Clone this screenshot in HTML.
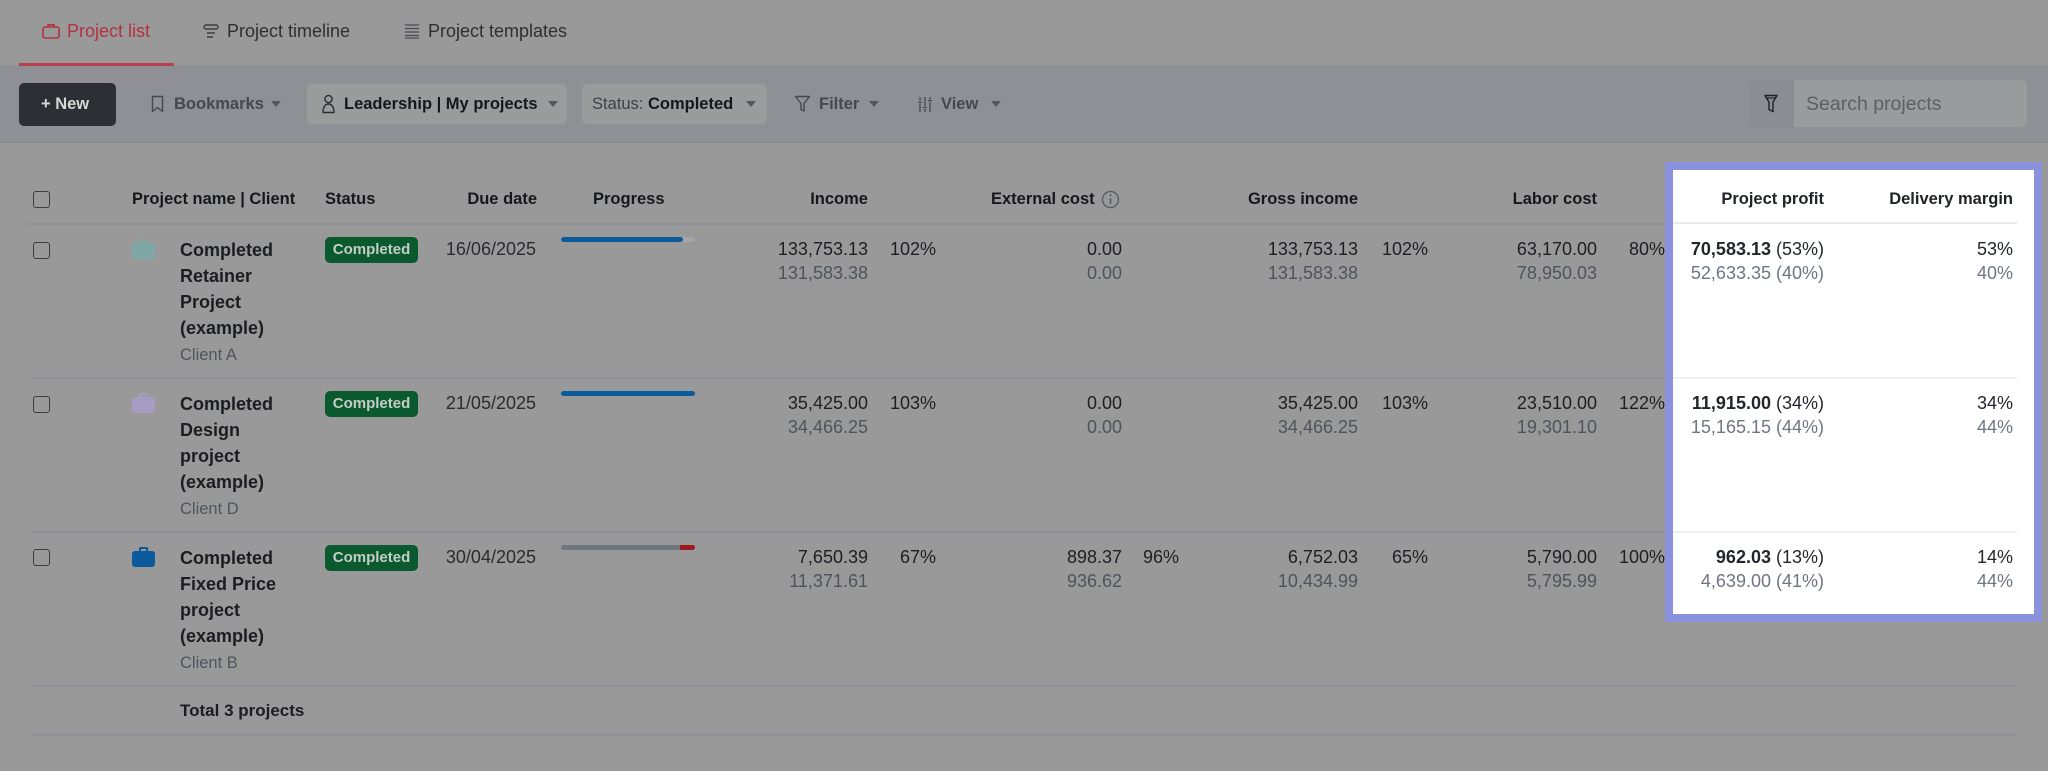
<!DOCTYPE html>
<html><head><meta charset="utf-8">
<style>
*{margin:0;padding:0;box-sizing:border-box}
html,body{width:2048px;height:771px;overflow:hidden}
body{position:relative;background:#999999;font-family:"Liberation Sans",Arial,sans-serif;color:#1c1d20}
.a{position:absolute}
.t{position:absolute;white-space:nowrap;line-height:24px;height:24px}
.n{font-size:18px;color:#1e1f22}
.g{color:#4f535b}
.h{font-size:16.5px;font-weight:bold;color:#17181b}
.line{position:absolute;height:2px;background:#8f9196}
.cb{position:absolute;width:17px;height:17px;border:1.6px solid #3c3d41;border-radius:3px}
.name{position:absolute;left:180px;font-size:18px;font-weight:bold;line-height:26px;color:#1c1d20;white-space:nowrap}
.name .c{font-weight:normal;font-size:16.5px;color:#50545c}
.badge{position:absolute;left:325px;width:93px;height:26px;border-radius:5px;background:#0b5a2f;color:#c3cdc6;font-size:15px;font-weight:bold;line-height:26px;text-align:center}
.bar{position:absolute;left:561px;width:134px;height:5px;border-radius:3px;background:#a2a5ab;overflow:hidden}
.caret{position:absolute;width:0;height:0;border-left:5px solid transparent;border-right:5px solid transparent;border-top:6px solid #55585f}
.ic{position:absolute;left:132px;width:23px;height:20px}
.ic .hd{position:absolute;left:7px;top:0;width:9px;height:6px;border:2px solid;border-bottom:none;border-radius:2px 2px 0 0}
.ic .bd{position:absolute;left:0;top:4px;width:23px;height:16px;border-radius:3px}
.p{z-index:3}
.pn{font-size:18px;color:#23262b}
.pg{color:#6e7584}
</style></head>
<body>

<!-- Tabs -->
<svg class="a" style="left:42px;top:23px" width="18" height="16" viewBox="0 0 18 16"><rect x="1" y="4" width="16" height="11" rx="2" fill="none" stroke="#b3323f" stroke-width="1.6"/><path d="M6 4V1.8h6V4" fill="none" stroke="#b3323f" stroke-width="1.6"/></svg>
<div class="t" style="left:67px;top:19px;font-size:18px;color:#b3323f">Project list</div>
<div class="a" style="left:0;top:65px;width:2048px;height:1px;background:#8d8f94"></div>
<div class="a" style="left:19px;top:63px;width:155px;height:3px;background:#b8404c"></div>

<svg class="a" style="left:203px;top:24px" width="17" height="15" viewBox="0 0 17 15"><rect x="1" y="1" width="14" height="4" rx="2" fill="none" stroke="#3c3d41" stroke-width="1.4"/><path d="M4 9h8M4 13h6" stroke="#3c3d41" stroke-width="1.4"/></svg>
<div class="t" style="left:227px;top:19px;font-size:18px;color:#2e2f33">Project timeline</div>

<svg class="a" style="left:404px;top:23px" width="16" height="16" viewBox="0 0 16 16"><path d="M1 2h14M1 5.5h14M1 9h14M1 12.5h14M1 15h14" stroke="#4a4b50" stroke-width="1.2"/></svg>
<div class="t" style="left:428px;top:19px;font-size:18px;color:#2e2f33">Project templates</div>

<!-- Toolbar -->
<div class="a" style="left:0;top:66px;width:2048px;height:76px;background:#8f9095"></div>
<div class="a" style="left:0;top:142px;width:2048px;height:1px;background:#878990"></div>

<div class="a" style="left:19px;top:83px;width:97px;height:43px;border-radius:5px;background:#2d2f35"></div>
<div class="t" style="left:41px;top:92px;font-size:16.5px;font-weight:bold;color:#d8d8d8">+ New</div>

<svg class="a" style="left:151px;top:95px" width="13" height="18" viewBox="0 0 13 18"><path d="M1.5 1.5h10v15l-5-4-5 4z" fill="none" stroke="#45484f" stroke-width="1.4" stroke-linejoin="round"/></svg>
<div class="t" style="left:174px;top:92px;font-size:16.5px;font-weight:bold;color:#45484f">Bookmarks</div>
<div class="caret" style="left:271px;top:101px"></div>

<div class="a" style="left:307px;top:84px;width:260px;height:40px;border-radius:5px;background:#9a9b9d"></div>
<svg class="a" style="left:321px;top:94px" width="15" height="20" viewBox="0 0 15 20"><circle cx="7.5" cy="5" r="3.6" fill="none" stroke="#2c2d31" stroke-width="1.4"/><path d="M2 18.5c0-5 2-8.5 5.5-8.5s5.5 3.5 5.5 8.5z" fill="none" stroke="#2c2d31" stroke-width="1.4" stroke-linejoin="round"/></svg>
<div class="t" style="left:344px;top:92px;font-size:16.5px;font-weight:bold;color:#16171a">Leadership | My projects</div>
<div class="caret" style="left:548px;top:101px"></div>

<div class="a" style="left:582px;top:84px;width:185px;height:40px;border-radius:5px;background:#9a9b9d"></div>
<div class="t" style="left:592px;top:92px;font-size:16.5px;color:#3d4047">Status: <b style="color:#16171a">Completed</b></div>
<div class="caret" style="left:746px;top:101px"></div>

<svg class="a" style="left:794px;top:95px" width="17" height="18" viewBox="0 0 17 18"><path d="M1.5 1.5h14l-5.5 7v7.5l-3-1.5v-6z" fill="none" stroke="#45484f" stroke-width="1.4" stroke-linejoin="round"/></svg>
<div class="t" style="left:819px;top:92px;font-size:16.5px;font-weight:bold;color:#45484f">Filter</div>
<div class="caret" style="left:869px;top:101px"></div>

<svg class="a" style="left:918px;top:96px" width="14" height="17" viewBox="0 0 14 17"><path d="M2 1v4M2 8v8M7 1v9M7 13v3M12 1v2M12 6v10M0 6.5h4M5 11.5h4M10 4.5h4" stroke="#45484f" stroke-width="1.3"/></svg>
<div class="t" style="left:941px;top:92px;font-size:16.5px;font-weight:bold;color:#45484f">View</div>
<div class="caret" style="left:991px;top:101px"></div>

<div class="a" style="left:1749px;top:80px;width:45px;height:47px;border-radius:5px 0 0 5px;background:#8b8d92"></div>
<svg class="a" style="left:1764px;top:94px" width="14" height="19" viewBox="0 0 14 19"><path d="M1 1.5h12l-4 6.5v9.5l-4-2v-7.5z" fill="none" stroke="#1e1f22" stroke-width="1.4" stroke-linejoin="round"/><path d="M2.5 4h9" stroke="#1e1f22" stroke-width="1.2"/></svg>
<div class="a" style="left:1794px;top:80px;width:233px;height:47px;border-radius:0 5px 5px 0;background:#9a9b9d"></div>
<div class="t" style="left:1806px;top:92px;font-size:19.5px;color:#5c5f66">Search projects</div>

<!-- Table header -->
<div class="cb" style="left:33px;top:191px"></div>
<div class="t h" style="left:132px;top:187px">Project name | Client</div>
<div class="t h" style="left:325px;top:187px">Status</div>
<div class="t h" style="right:1511px;top:187px">Due date</div>
<div class="t h" style="left:593px;top:187px">Progress</div>
<div class="t h" style="right:1180px;top:187px">Income</div>
<div class="t h" style="left:991px;top:187px">External cost</div>
<svg class="a" style="left:1101px;top:190px" width="19" height="19" viewBox="0 0 19 19"><circle cx="9.5" cy="9.5" r="8" fill="none" stroke="#55585f" stroke-width="1.3"/><path d="M9.5 8v6" stroke="#55585f" stroke-width="1.5"/><circle cx="9.5" cy="5.3" r="1" fill="#55585f"/></svg>
<div class="t h" style="right:690px;top:187px">Gross income</div>
<div class="t h" style="right:451px;top:187px">Labor cost</div>

<div class="line" style="left:30px;top:223px;width:1640px"></div>
<div class="line" style="left:30px;top:377px;width:1640px"></div>
<div class="line" style="left:30px;top:531px;width:1640px"></div>
<div class="line" style="left:30px;top:685px;width:1987px"></div>
<div class="line" style="left:30px;top:734px;width:1987px"></div>

<!-- Row 1 -->
<div class="cb" style="left:33px;top:242px"></div>
<div class="ic" style="top:239px"><div class="hd" style="border-color:#7ea8a6"></div><div class="bd" style="background:#7ea8a6"></div></div>
<div class="name" style="top:237px">Completed<br>Retainer<br>Project<br>(example)<br><span class="c">Client A</span></div>
<div class="badge" style="top:237px">Completed</div>
<div class="t n" style="right:1512px;top:237px;color:#2a2b2e">16/06/2025</div>
<div class="bar" style="top:237px"><div class="a" style="left:0;top:0;width:122px;height:5px;background:#0b5a99;border-radius:3px"></div></div>
<div class="t n" style="right:1180px;top:237px">133,753.13</div>
<div class="t n g" style="right:1180px;top:261px">131,583.38</div>
<div class="t n" style="right:1112px;top:237px">102%</div>
<div class="t n" style="right:926px;top:237px">0.00</div>
<div class="t n g" style="right:926px;top:261px">0.00</div>
<div class="t n" style="right:690px;top:237px">133,753.13</div>
<div class="t n g" style="right:690px;top:261px">131,583.38</div>
<div class="t n" style="right:620px;top:237px">102%</div>
<div class="t n" style="right:451px;top:237px">63,170.00</div>
<div class="t n g" style="right:451px;top:261px">78,950.03</div>
<div class="t n" style="right:383px;top:237px">80%</div>

<!-- Row 2 -->
<div class="cb" style="left:33px;top:396px"></div>
<div class="ic" style="top:393px"><div class="hd" style="border-color:#a59dc2"></div><div class="bd" style="background:#a59dc2"></div></div>
<div class="name" style="top:391px">Completed<br>Design<br>project<br>(example)<br><span class="c">Client D</span></div>
<div class="badge" style="top:391px">Completed</div>
<div class="t n" style="right:1512px;top:391px;color:#2a2b2e">21/05/2025</div>
<div class="bar" style="top:391px;background:#0b5a99"></div>
<div class="t n" style="right:1180px;top:391px">35,425.00</div>
<div class="t n g" style="right:1180px;top:415px">34,466.25</div>
<div class="t n" style="right:1112px;top:391px">103%</div>
<div class="t n" style="right:926px;top:391px">0.00</div>
<div class="t n g" style="right:926px;top:415px">0.00</div>
<div class="t n" style="right:690px;top:391px">35,425.00</div>
<div class="t n g" style="right:690px;top:415px">34,466.25</div>
<div class="t n" style="right:620px;top:391px">103%</div>
<div class="t n" style="right:451px;top:391px">23,510.00</div>
<div class="t n g" style="right:451px;top:415px">19,301.10</div>
<div class="t n" style="right:383px;top:391px">122%</div>

<!-- Row 3 -->
<div class="cb" style="left:33px;top:549px"></div>
<div class="ic" style="top:547px"><div class="hd" style="border-color:#0b5a9c"></div><div class="bd" style="background:#0b5a9c"></div></div>
<div class="name" style="top:545px">Completed<br>Fixed Price<br>project<br>(example)<br><span class="c">Client B</span></div>
<div class="badge" style="top:545px">Completed</div>
<div class="t n" style="right:1512px;top:545px;color:#2a2b2e">30/04/2025</div>
<div class="bar" style="top:545px;background:#70767e"><div class="a" style="left:119px;top:0;width:15px;height:5px;background:#9b1a1e"></div></div>
<div class="t n" style="right:1180px;top:545px">7,650.39</div>
<div class="t n g" style="right:1180px;top:569px">11,371.61</div>
<div class="t n" style="right:1112px;top:545px">67%</div>
<div class="t n" style="right:926px;top:545px">898.37</div>
<div class="t n g" style="right:926px;top:569px">936.62</div>
<div class="t n" style="right:869px;top:545px">96%</div>
<div class="t n" style="right:690px;top:545px">6,752.03</div>
<div class="t n g" style="right:690px;top:569px">10,434.99</div>
<div class="t n" style="right:620px;top:545px">65%</div>
<div class="t n" style="right:451px;top:545px">5,790.00</div>
<div class="t n g" style="right:451px;top:569px">5,795.99</div>
<div class="t n" style="right:383px;top:545px">100%</div>

<!-- Total -->
<div class="t" style="left:180px;top:699px;font-size:17px;font-weight:bold;color:#1c1d20">Total 3 projects</div>

<!-- Highlight panel -->
<div class="a" style="left:1665px;top:162px;width:377px;height:460px;border:8px solid #8a92dd;background:#ffffff;z-index:2"></div>
<div class="a p" style="left:1673px;top:222px;width:344px;height:2px;background:#e8eaf2"></div>
<div class="a p" style="left:1673px;top:377px;width:344px;height:2px;background:#eef0f5"></div>
<div class="a p" style="left:1673px;top:531px;width:344px;height:2px;background:#eef0f5"></div>

<div class="t p" style="right:224px;top:187px;font-size:16.5px;font-weight:bold;color:#1f2227">Project profit</div>
<div class="t p" style="right:35px;top:187px;font-size:16.5px;font-weight:bold;color:#1f2227">Delivery margin</div>

<div class="t p pn" style="right:224px;top:237px"><b>70,583.13</b> (53%)</div>
<div class="t p pn pg" style="right:224px;top:261px">52,633.35 (40%)</div>
<div class="t p pn" style="right:35px;top:237px">53%</div>
<div class="t p pn pg" style="right:35px;top:261px">40%</div>

<div class="t p pn" style="right:224px;top:391px"><b>11,915.00</b> (34%)</div>
<div class="t p pn pg" style="right:224px;top:415px">15,165.15 (44%)</div>
<div class="t p pn" style="right:35px;top:391px">34%</div>
<div class="t p pn pg" style="right:35px;top:415px">44%</div>

<div class="t p pn" style="right:224px;top:545px"><b>962.03</b> (13%)</div>
<div class="t p pn pg" style="right:224px;top:569px">4,639.00 (41%)</div>
<div class="t p pn" style="right:35px;top:545px">14%</div>
<div class="t p pn pg" style="right:35px;top:569px">44%</div>

</body></html>
